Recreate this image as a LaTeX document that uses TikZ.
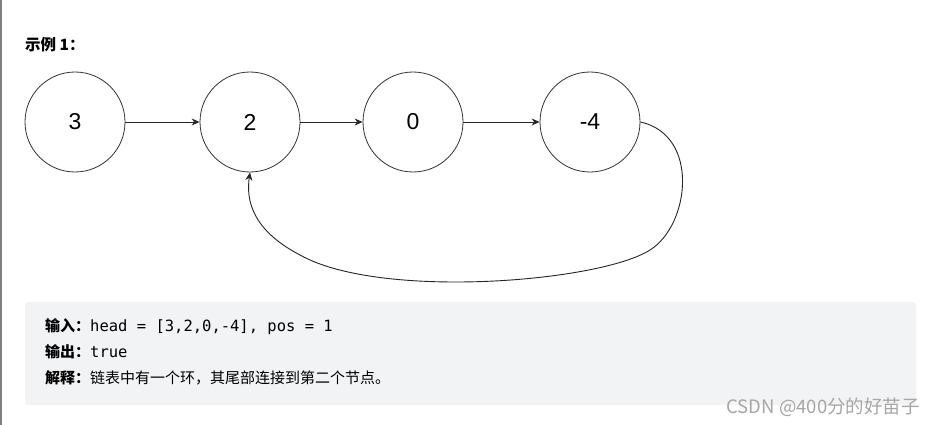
\documentclass[tikz,border=0pt]{standalone}
\usepackage{fontspec}
\setmainfont{Liberation Sans}
\newfontfamily\cjk{Noto Sans CJK SC}
\setmonofont{DejaVu Sans Mono}
\usetikzlibrary{arrows.meta}
\definecolor{boxbg}{HTML}{F2F3F5}
\tikzset{
  lnode/.style={circle,draw=black!80,line width=0.8pt,minimum size=100pt,inner sep=0pt,font=\fontsize{23}{25}\selectfont},
  arr/.style={-{Stealth[length=8pt,width=7pt]},line width=0.9pt,draw=black!85},
  txt/.style={anchor=west,inner sep=0pt,font=\fontsize{15}{17}\selectfont}
}
\begin{document}
\begin{tikzpicture}[x=1pt,y=-1pt]
\useasboundingbox[fill=white] (0,0) rectangle (936,425);
\draw[gray,line width=1.5pt] (1,0) -- (1,425);
\node[anchor=west,inner sep=0pt,font=\cjk\bfseries\fontsize{15.5}{17}\selectfont] (title) at (25,45) {示例 1：};
\node[lnode] (a) at (75,122) {3};
\node[lnode] (b) at (250,122) {2};
\node[lnode] (c) at (413,122) {0};
\node[lnode] (d) at (590,122) {-4};
\draw[arr] (a) -- (b);
\draw[arr] (b) -- (c);
\draw[arr] (c) -- (d);
\draw[arr] (d.east) .. controls (700,135) and (690,225) .. (650,250) .. controls (600,282) and (380,300) .. (300,255) .. controls (252,230) and (246,200) .. (b.south);
\fill[boxbg,rounded corners=3pt] (25,302) rectangle (916,405);
\node[txt] (l1) at (45,327) {{\cjk\bfseries 输入：}{\fontsize{15.5}{17}\selectfont\texttt{head = [3,2,0,-4], pos = 1}}};
\node[txt] (l2) at (45,352) {{\cjk\bfseries 输出：}{\fontsize{15.5}{17}\selectfont\texttt{true}}};
\node[txt] (l3) at (45,378) {{\cjk\bfseries 解释：}{\cjk 链表中有一个环，其尾部连接到第二个节点。}};
\node[anchor=east,inner sep=0pt,text=black!35,font=\cjk\fontsize{18.5}{20}\selectfont] (wm) at (920,407) {CSDN @400分的好苗子};
\end{tikzpicture}
\end{document}
